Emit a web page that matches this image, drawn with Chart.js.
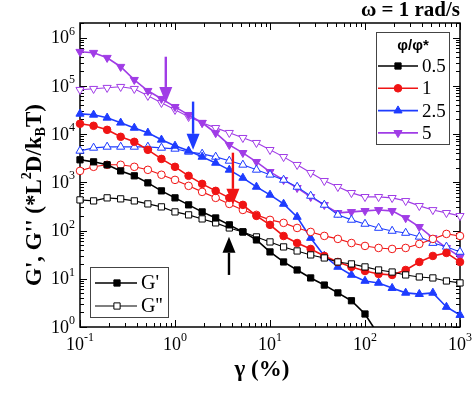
<!DOCTYPE html>
<html>
<head>
<meta charset="utf-8">
<script src="https://cdn.jsdelivr.net/npm/chart.js@4.4.1/dist/chart.umd.min.js"></script>
<style>
html, body { margin: 0; padding: 0; background: #fff; }
#contenedor { width: 474px; height: 393px; position: relative; }
</style>
</head>
<body>
<div id="contenedor"><canvas id="grafico"></canvas></div>
<script>
// deformacion gamma (%), 7 puntos por decada
const deformacion = [0.1, 0.139, 0.193, 0.268, 0.373, 0.518, 0.72, 1, 1.39, 1.93, 2.68, 3.73, 5.18, 7.2,
    10, 13.9, 19.3, 26.8, 37.3, 51.8, 72, 100, 139, 193, 268, 373, 518, 720, 1000];

// G' y G'' para cada phi/phi*
const gp05 = [2920, 2650, 2300, 1720, 1360, 972, 663, 475, 340, 243, 182, 131, 93.5, 63.8, 36, 22.3, 15.2, 10.4, 7.4, 5.1, 3.5, 1.86, 0.68];
const gpp05 = [431, 411, 475, 453, 411, 356, 309, 243, 211, 174, 144, 113, 93.5, 73.7, 58, 45.7, 37.7, 31.2, 27, 22.3, 20.3, 17.6, 15.2, 13.8, 12.0, 10.9, 10.4, 9.0, 8.2];
const gp1 = [16300, 14800, 12200, 8750, 6890, 4700, 3050, 2090, 1360, 926, 663, 475, 340, 201, 131, 77, 55, 41.5, 29.7, 22.3, 17.6, 14.5, 12.6, 12.0, 15.2, 22.3, 29.7, 34.3, 22.3];
const gpp1 = [1720, 2090, 2300, 2300, 2090, 1810, 1430, 1120, 842, 632, 475, 356, 267, 211, 166, 144, 113, 93.5, 77.3, 67, 55, 47.9, 43.5, 41.5, 43.5, 52.7, 67, 85, 77];
const gp25 = [26200, 25000, 21700, 17100, 13400, 10600, 7590, 5690, 4480, 3360, 2520, 1810, 1230, 803, 548, 356, 191, 70, 29.7, 17.6, 12.0, 9.0, 8.2, 6.4, 5.1, 4.8, 5.1, 2.6, 1.77];
const gpp25 = [4480, 5170, 5420, 5420, 5420, 5420, 5170, 4930, 4270, 3880, 3360, 2780, 2300, 1810, 1430, 1120, 803, 522, 340, 211, 166, 137, 113, 98, 89, 74, 55, 46, 36];
const gp5 = [507000, 484000, 381000, 248000, 133000, 78700, 53700, 36600, 25000, 17100, 10500, 5970, 4070, 2650, 1640, 1120, 766, 498, 340, 232, 243, 255, 267, 255, 182, 119, 70, 43.5, 28.3];
const gpp5 = [82600, 86600, 91000, 95300, 86600, 62100, 44400, 31800, 22700, 17100, 13400, 10600, 8340, 6570, 4700, 3360, 2300, 1570, 1070, 803, 603, 498, 498, 475, 411, 324, 267, 232, 201];

const etiquetasPhi = ["0.5", "1", "2.5", "5"];
const coloresPhi = ["#000000", "#f01414", "#1e3cff", "#a03ce6"];
const estilosPhi = ["rect", "circle", "triangle", "triangle"];
const rotacionPhi = [0, 0, 0, 180];

// flechas (gamma, desde, hasta)
const flechas = [
    { x: 0.80, desde: 4.0e5, hasta: 4.4e4, color: "#a03ce6" },
    { x: 1.55, desde: 4.7e4, hasta: 4.7e3, color: "#1e3cff" },
    { x: 4.07, desde: 4.1e3, hasta: 340, color: "#f01414" },
    { x: 3.7, desde: 12, hasta: 74, color: "#000000" }
];

const serif = '"Liberation Serif", "Times New Roman", serif';

function radio(estilo) {
    return estilo === "circle" ? 3.8 : (estilo === "rect" ? 4.4 : 4.7);
}

function puntos(valores) {
    return valores.map((v, i) => ({ x: deformacion[i], y: v }));
}

function serie(valores, n, relleno) {
    const color = coloresPhi[n];
    return {
        label: etiquetasPhi[n] + (relleno ? " G'" : " G''"),
        data: puntos(valores),
        borderColor: color,
        borderWidth: relleno ? 1.6 : 1.1,
        pointStyle: estilosPhi[n],
        pointRotation: rotacionPhi[n],
        pointRadius: radio(estilosPhi[n]),
        pointBorderWidth: 1,
        pointBorderColor: color,
        pointBackgroundColor: relleno ? color : "#ffffff",
        pointHoverRadius: 0,
        tension: 0,
        clip: { left: 8, top: 8, right: 8, bottom: 0 }
    };
}

function marcador(ctx, estilo, rot, x, y, r, color, relleno) {
    ctx.save();
    ctx.fillStyle = relleno ? color : "#ffffff";
    ctx.strokeStyle = color;
    ctx.lineWidth = 1;
    ctx.beginPath();
    if (estilo === "rect") {
        const s = r * Math.SQRT1_2;
        ctx.rect(x - s, y - s, 2 * s, 2 * s);
    } else if (estilo === "circle") {
        ctx.arc(x, y, r, 0, Math.PI * 2);
    } else {
        const d = rot === 180 ? -1 : 1;
        ctx.moveTo(x, y - d * r);
        ctx.lineTo(x - r * 0.866, y + d * r * 0.5);
        ctx.lineTo(x + r * 0.866, y + d * r * 0.5);
        ctx.closePath();
    }
    ctx.fill();
    ctx.stroke();
    ctx.restore();
}

function potencia(ctx, exp, x, y, alinear) {
    ctx.font = "18px " + serif;
    const wb = ctx.measureText("10").width;
    ctx.font = "12px " + serif;
    const we = ctx.measureText(String(exp)).width;
    let x0 = alinear === "right" ? x - wb - we : x - (wb + we) / 2;
    ctx.textAlign = "left";
    ctx.textBaseline = "middle";
    ctx.font = "18px " + serif;
    ctx.fillText("10", x0, y);
    ctx.font = "12px " + serif;
    ctx.fillText(String(exp), x0 + wb, y - 7);
}

function textoRico(ctx, partes, x, y) {
    let total = 0;
    partes.forEach(p => {
        ctx.font = "bold " + p.s + "px " + serif;
        p.w = ctx.measureText(p.t).width;
        total += p.w;
    });
    let cx = x - total / 2;
    ctx.textAlign = "left";
    ctx.textBaseline = "middle";
    partes.forEach(p => {
        ctx.font = "bold " + p.s + "px " + serif;
        ctx.fillText(p.t, cx, y + (p.dy || 0));
        cx += p.w;
    });
}

const ejes = {
    id: "ejes",
    beforeDatasetsDraw(chart) {
        const ctx = chart.ctx;
        const ca = chart.chartArea;
        const xs = chart.scales.x, ys = chart.scales.y;
        ctx.save();
        ctx.strokeStyle = "#000";
        ctx.lineWidth = 1;
        ctx.beginPath();
        for (let e = -1; e <= 3; e++) {
            for (let m = 1; m <= 9; m++) {
                const v = m * Math.pow(10, e);
                if (v > 1000.01) break;
                const px = Math.round(xs.getPixelForValue(v)) + 0.5;
                const largo = m === 1 ? 7 : 4;
                ctx.moveTo(px, ca.bottom); ctx.lineTo(px, ca.bottom - largo);
                ctx.moveTo(px, ca.top); ctx.lineTo(px, ca.top + largo);
            }
        }
        for (let e = 0; e <= 6; e++) {
            for (let m = 1; m <= 9; m++) {
                const v = m * Math.pow(10, e);
                if (v > ys.max) break;
                const py = Math.round(ys.getPixelForValue(v)) + 0.5;
                const largo = m === 1 ? 7 : 4;
                ctx.moveTo(ca.left, py); ctx.lineTo(ca.left + largo, py);
                ctx.moveTo(ca.right, py); ctx.lineTo(ca.right - largo, py);
            }
        }
        ctx.stroke();
        ctx.lineWidth = 1.5;
        ctx.strokeRect(ca.left, ca.top, ca.right - ca.left, ca.bottom - ca.top);

        ctx.fillStyle = "#000";
        for (let e = -1; e <= 3; e++) {
            potencia(ctx, e, xs.getPixelForValue(Math.pow(10, e)), ca.bottom + 18, "center");
        }
        for (let e = 0; e <= 6; e++) {
            potencia(ctx, e, ca.left - 5, ys.getPixelForValue(Math.pow(10, e)) + 1, "right");
        }

        // titulos
        textoRico(ctx, [{ t: "\u03b3 (%)", s: 23 }], 262, 370);
        ctx.save();
        ctx.translate(35, 195);
        ctx.rotate(-Math.PI / 2);
        textoRico(ctx, [
            { t: "G', G'' (*L", s: 23 },
            { t: "2", s: 14, dy: -8 },
            { t: "D/k", s: 23 },
            { t: "B", s: 14, dy: 6 },
            { t: "T)", s: 23 }
        ], 0, 0);
        ctx.restore();
        ctx.font = "bold 21px " + serif;
        ctx.textAlign = "right";
        ctx.textBaseline = "middle";
        ctx.fillText("\u03c9 = 1 rad/s", ca.right, 11);
        ctx.restore();
    },
    afterDatasetsDraw(chart) {
        const ctx = chart.ctx;
        const xs = chart.scales.x, ys = chart.scales.y;
        ctx.save();
        // flechas
        flechas.forEach(f => {
            const px = xs.getPixelForValue(f.x);
            const y0 = ys.getPixelForValue(f.desde);
            const y1 = ys.getPixelForValue(f.hasta);
            const d = y1 > y0 ? 1 : -1;
            const punta = 16;
            ctx.strokeStyle = f.color;
            ctx.fillStyle = f.color;
            ctx.lineWidth = 2.4;
            ctx.beginPath();
            ctx.moveTo(px, y0);
            ctx.lineTo(px, y1 - d * punta);
            ctx.stroke();
            ctx.beginPath();
            ctx.moveTo(px, y1);
            ctx.lineTo(px - 6.5, y1 - d * punta);
            ctx.lineTo(px + 6.5, y1 - d * punta);
            ctx.closePath();
            ctx.fill();
        });

        // leyenda phi/phi*
        ctx.fillStyle = "#fff";
        ctx.fillRect(376, 32, 73, 112);
        ctx.strokeStyle = "#444";
        ctx.lineWidth = 1;
        ctx.strokeRect(376.5, 32.5, 73, 112);
        ctx.fillStyle = "#000";
        ctx.font = 'bold 15px "Liberation Sans", Arial, sans-serif';
        ctx.textAlign = "center";
        ctx.textBaseline = "middle";
        ctx.fillText("\u03c6/\u03c6*", 413, 46);
        etiquetasPhi.forEach((et, i) => {
            const y = 66 + i * 22.3;
            ctx.strokeStyle = coloresPhi[i];
            ctx.lineWidth = 1.6;
            ctx.beginPath();
            ctx.moveTo(378, y);
            ctx.lineTo(418, y);
            ctx.stroke();
            marcador(ctx, estilosPhi[i], rotacionPhi[i], 398, y, radio(estilosPhi[i]), coloresPhi[i], true);
            ctx.fillStyle = "#000";
            ctx.font = "19px " + serif;
            ctx.textAlign = "left";
            ctx.fillText(et, 422, y + 1);
        });

        // leyenda G', G''
        ctx.fillStyle = "#fff";
        ctx.fillRect(90, 267, 78, 50);
        ctx.strokeStyle = "#444";
        ctx.lineWidth = 1;
        ctx.strokeRect(90.5, 267.5, 78, 50);
        [["G'", true, 283], ["G''", false, 306]].forEach(([et, relleno, y]) => {
            ctx.strokeStyle = "#000";
            ctx.lineWidth = relleno ? 1.6 : 1.1;
            ctx.beginPath();
            ctx.moveTo(95, y);
            ctx.lineTo(137, y);
            ctx.stroke();
            marcador(ctx, "rect", 0, 117, y, radio("rect"), "#000", relleno);
            ctx.fillStyle = "#000";
            ctx.font = "20px " + serif;
            ctx.textAlign = "left";
            ctx.textBaseline = "middle";
            ctx.fillText(et, 141, y + 1);
        });
        ctx.restore();
    }
};

const ctxGrafico = document.getElementById("grafico");

const grafico = new Chart(ctxGrafico, {
    type: "line",
    data: {
        datasets: [
            serie(gp05, 0, true), serie(gpp05, 0, false),
            serie(gp1, 1, true), serie(gpp1, 1, false),
            serie(gp25, 2, true), serie(gpp25, 2, false),
            serie(gp5, 3, true), serie(gpp5, 3, false)
        ]
    },
    options: {
        responsive: true,
        maintainAspectRatio: false,
        animation: false,
        layout: { padding: { left: 80, top: 23, right: 14, bottom: 66 } },
        plugins: { legend: { display: false }, tooltip: { enabled: false } },
        scales: {
            x: { type: "logarithmic", min: 0.1, max: 1000, bounds: "data", display: false },
            y: { type: "logarithmic", min: 1, max: 2.0e6, bounds: "data", display: false }
        }
    },
    plugins: [ejes]
});
</script>
</body>
</html>
